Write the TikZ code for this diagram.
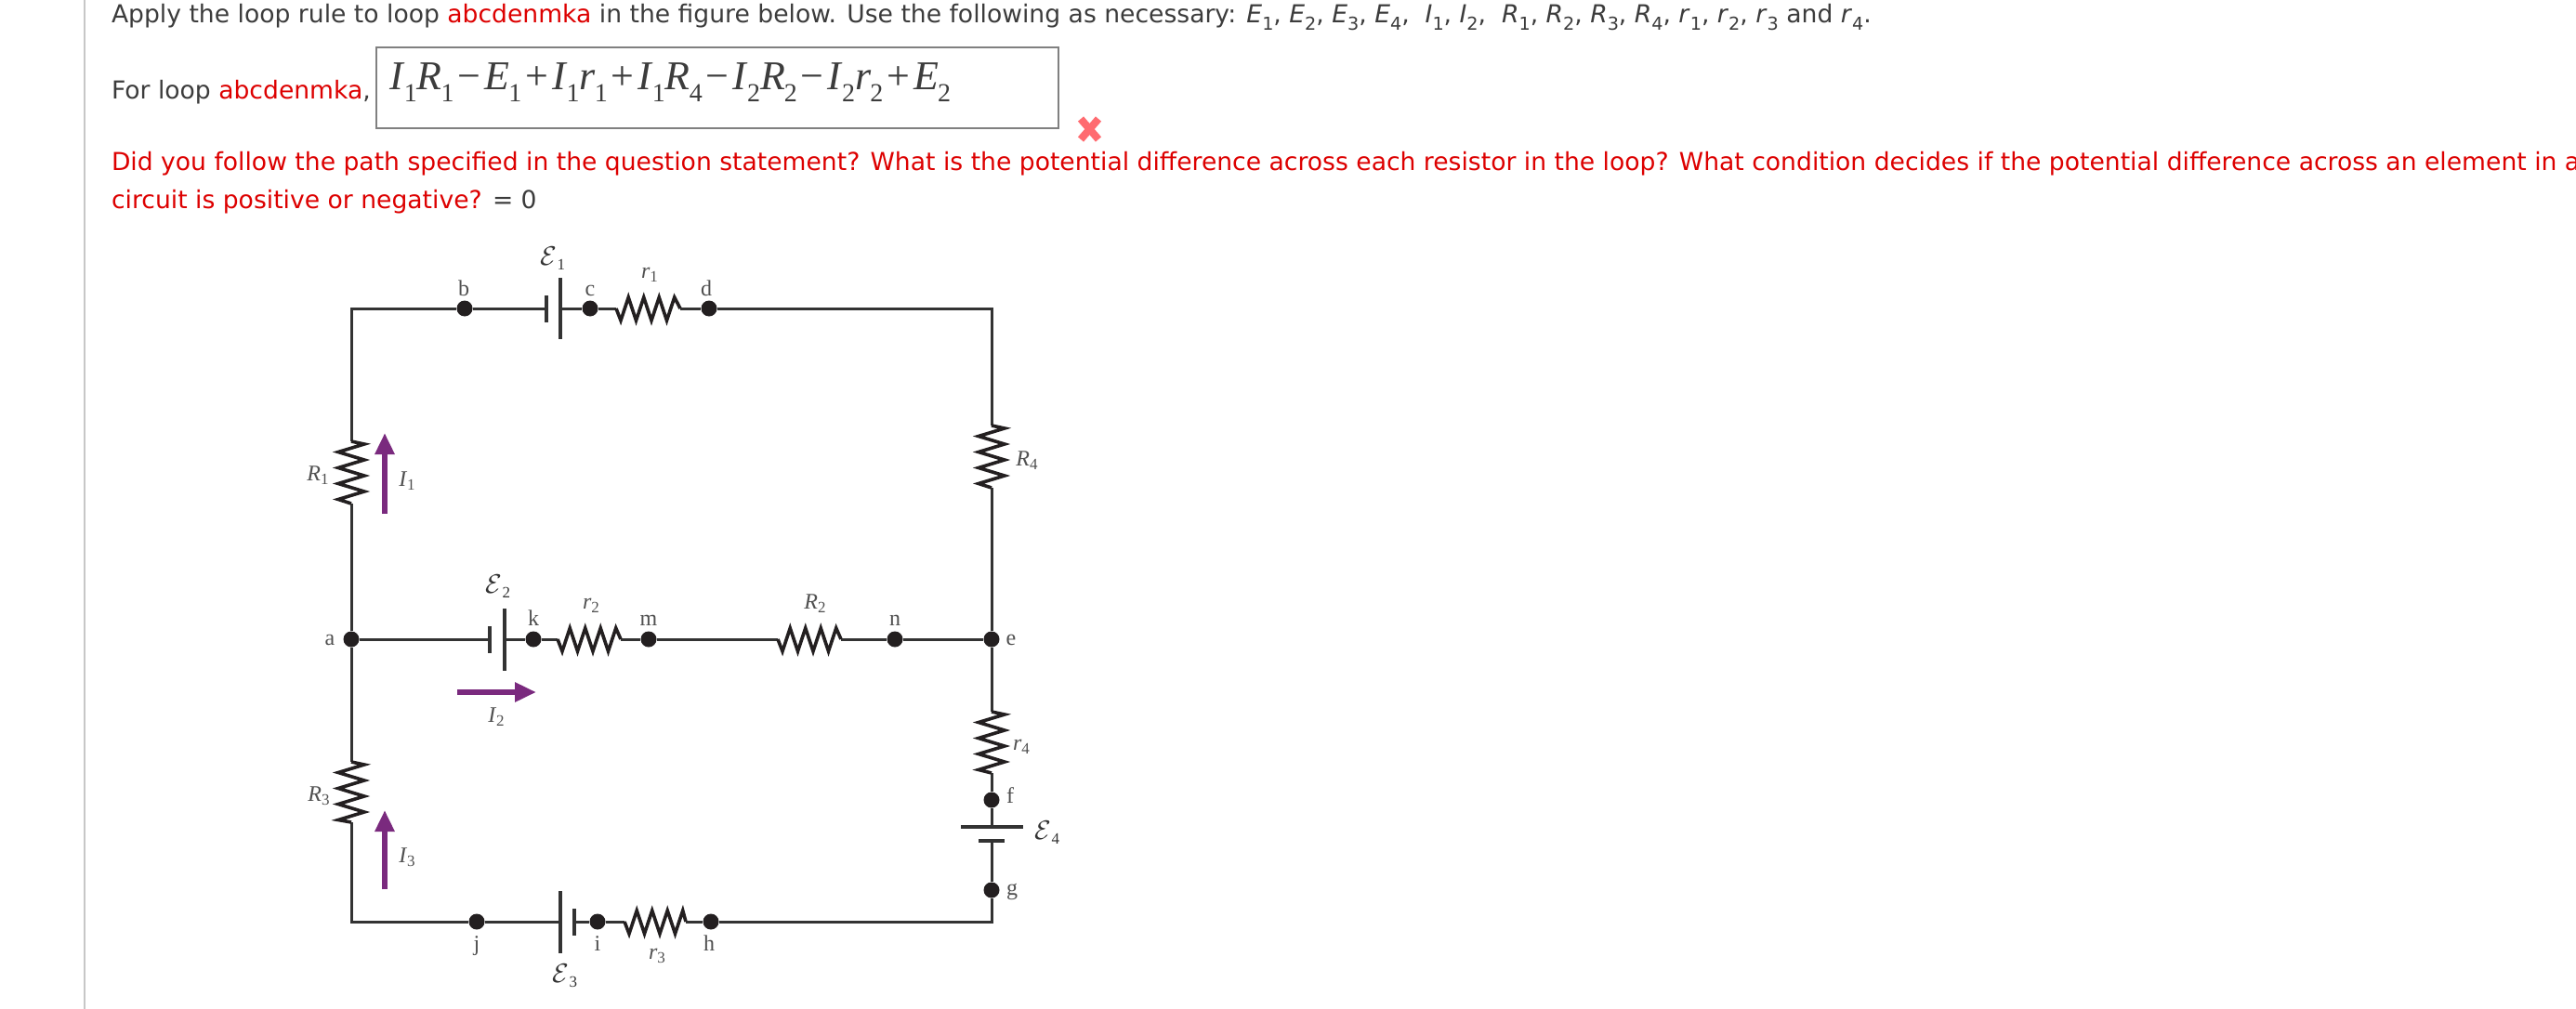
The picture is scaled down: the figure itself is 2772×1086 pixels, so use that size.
\documentclass[tikz,border=0pt]{standalone}
\usepackage{fontspec}
\setmainfont{DejaVu Sans}
\newfontfamily\eqfont{Liberation Serif}
\usetikzlibrary{arrows.meta}
\definecolor{bodyc}{HTML}{3C3C3C}
\definecolor{redc}{HTML}{DD0000}
\definecolor{labc}{HTML}{505050}
\definecolor{wirec}{HTML}{333333}
\definecolor{dotc}{HTML}{231F20}
\definecolor{purp}{HTML}{7A2A7E}
\definecolor{xc}{HTML}{FF6B70}
\newcommand{\sbt}[1]{\raisebox{-0.28em}{\fontsize{9.6}{11}\selectfont #1}}
\newcommand{\V}[2]{\textit{#1}\sbt{#2}}
\newcommand{\Q}[2]{\textit{#1}\kern-0.5pt\raisebox{-0.28em}{\fontsize{14}{16}\selectfont #2}}
\newcommand{\Op}[1]{\kern2pt#1\kern2pt}
\newcommand{\Lsub}[2]{\textit{#1}\raisebox{-0.2em}{\fontsize{8.5}{10}\selectfont #2}}
\newcommand{\Ecal}[1]{\fontsize{14.4}{16}\selectfont$\mathcal{E}$\raisebox{-0.2em}{\eqfont\fontsize{8.5}{10}\selectfont #1}}
\newcommand{\reszH}{-- ++(5,13) -- ++(8.25,-25) -- ++(8.25,25) -- ++(8.25,-25) -- ++(8.25,25) -- ++(8.25,-25) -- ++(8.25,25) -- ++(8.25,-25)}
\newcommand{\reszV}{-- ++(14,3) -- ++(-28,8.5) -- ++(28,8.5) -- ++(-28,8.5) -- ++(28,8.5) -- ++(-28,8.5) -- ++(28,8.5) -- ++(-28,8.5)}
\tikzset{
 body/.style={anchor=base west,inner sep=0,outer sep=0,text=bodyc,font=\fontsize{13.3}{16}\selectfont},
 lab/.style={anchor=base,inner sep=0,outer sep=0,text=labc,font=\eqfont\fontsize{12}{14}\selectfont},
 wire/.style={draw=wirec,line width=1.5pt,line join=miter},
 zig/.style={draw=dotc,line width=1.8pt,line join=miter},
 pt/.style={circle,fill=dotc,inner sep=0,minimum size=8.5pt},
 plateV/.style={rectangle,fill=wirec,inner sep=0,minimum width=2pt},
 plateH/.style={rectangle,fill=wirec,inner sep=0,minimum height=2pt},
 cur/.style={draw=purp,line width=3pt,-{Triangle[length=11.5pt,width=10pt,fill=purp]}},
}
\begin{document}
\begin{tikzpicture}[x=0.5pt,y=-0.5pt]
\useasboundingbox[fill=white] (0,0) rectangle (2772,1086);
\coordinate (ruleT) at (91,0); \coordinate (ruleB) at (91,1086);
\draw[draw=black!22,line width=1pt] (ruleT) -- (ruleB);
% text
\node[body] (l1) at (120,25) {Apply the loop rule to loop {\color{redc}abcdenmka} in the figure below. Use the following as necessary: \V{E}{1}, \V{E}{2}, \V{E}{3}, \V{E}{4},\ \ \V{I}{1}, \V{I}{2},\ \ \V{R}{1}, \V{R}{2}, \V{R}{3}, \V{R}{4}, \V{r}{1}, \V{r}{2}, \V{r}{3} and \V{r}{4}.};
\node[body] (l2) at (120,106) {For loop {\color{redc}abcdenmka},};
\node[draw=black!50,line width=1.2pt,inner sep=0,minimum width=367pt,minimum height=43.5pt,anchor=north west] (box) at (404,50) {};
\node[anchor=base west,inner sep=0,text=bodyc,font=\eqfont\fontsize{22}{26}\selectfont] (eq) at (419,97) {\Q{I}{1}\Q{R}{1}\Op{−}\Q{E}{1}\Op{+}\Q{I}{1}\Q{r}{1}\Op{+}\Q{I}{1}\Q{R}{4}\Op{−}\Q{I}{2}\Q{R}{2}\Op{−}\Q{I}{2}\Q{r}{2}\Op{+}\Q{E}{2}};
\coordinate (xa) at (1163,128); \coordinate (xb) at (1182,150); \coordinate (xc1) at (1182,128); \coordinate (xd) at (1163,150);
\draw[xc,line width=4pt] (xa) -- (xb) (xc1) -- (xd);
\node[body,text=redc] (l3) at (120,184) {Did you follow the path specified in the question statement? What is the potential difference across each resistor in the loop? What condition decides if the potential difference across an element in a};
\node[body,text=redc] (l4) at (120,224) {circuit is positive or negative? {\color{bodyc}= 0}};
% dots
\node[pt] (a) at (378,688) {};
\node[pt] (b) at (500,332) {};
\node[pt] (c) at (635,332) {};
\node[pt] (d) at (763,332) {};
\node[pt] (e) at (1067,688) {};
\node[pt] (f) at (1067,861) {};
\node[pt] (g) at (1067,958) {};
\node[pt] (h) at (765,992) {};
\node[pt] (i) at (643,992) {};
\node[pt] (j) at (513,992) {};
\node[pt] (k) at (574,688) {};
\node[pt] (m) at (698,688) {};
\node[pt] (n) at (963,688) {};
% corners
\coordinate (TL) at (378,332); \coordinate (TR) at (1067,332);
\coordinate (BL) at (378,992); \coordinate (BR) at (1067,992);
% batteries
\node[plateV,minimum height=14.5pt] (e1s) at (588,332) {};
\node[plateV,minimum height=33pt] (e1l) at (603,332) {};
\node[plateV,minimum height=14.5pt] (e2s) at (527,688) {};
\node[plateV,minimum height=33.5pt] (e2l) at (543,688) {};
\node[plateV,minimum height=33.5pt] (e3l) at (603,992) {};
\node[plateV,minimum height=14.5pt] (e3s) at (618,992) {};
\node[plateH,minimum width=33.5pt] (e4l) at (1067,890) {};
\node[plateH,minimum width=14pt] (e4s) at (1067,905) {};
% resistor ends
\coordinate (r1a) at (663,332); \coordinate (r1b) at (732,332);
\coordinate (r2a) at (600,688); \coordinate (r2b) at (668,688);
\coordinate (r3a) at (672,992); \coordinate (r3b) at (738,992);
\coordinate (Rb2a) at (837,688); \coordinate (Rb2b) at (905,688);
\coordinate (R1a) at (378,475); \coordinate (R1b) at (378,542);
\coordinate (R3a) at (378,820); \coordinate (R3b) at (378,885);
\coordinate (R4a) at (1067,458); \coordinate (R4b) at (1067,525);
\coordinate (r4a) at (1067,766); \coordinate (r4b) at (1067,832);
% wires
\draw[wire] (b) -| (R1a);
\draw[wire] (R1b) -- (a);
\draw[wire] (a) -- (R3a);
\draw[wire] (R3b) |- (j);
\draw[wire] (b) -- (e1s);
\draw[wire] (e1l) -- (c);
\draw[wire] (c) -- (r1a);
\draw[wire] (r1b) -- (d);
\draw[wire] (d) -| (R4a);
\draw[wire] (R4b) -- (e);
\draw[wire] (a) -- (e2s);
\draw[wire] (e2l) -- (k);
\draw[wire] (k) -- (r2a);
\draw[wire] (r2b) -- (m);
\draw[wire] (m) -- (Rb2a);
\draw[wire] (Rb2b) -- (n);
\draw[wire] (n) -- (e);
\draw[wire] (e) -- (r4a);
\draw[wire] (r4b) -- (f);
\draw[wire] (f) -- (e4l);
\draw[wire] (e4s) -- (g);
\draw[wire] (g) |- (h);
\draw[wire] (h) -- (r3b);
\draw[wire] (r3a) -- (i);
\draw[wire] (i) -- (e3s);
\draw[wire] (e3l) -- (j);
% resistors
\draw[zig] (r1a) \reszH -- (r1b);
\draw[zig] (r2a) \reszH -- (r2b);
\draw[zig] (r3a) \reszH -- (r3b);
\draw[zig] (Rb2a) \reszH -- (Rb2b);
\draw[zig] (R1a) \reszV -- (R1b);
\draw[zig] (R3a) \reszV -- (R3b);
\draw[zig] (R4a) \reszV -- (R4b);
\draw[zig] (r4a) \reszV -- (r4b);
% currents
\coordinate (i1a) at (414,553); \coordinate (i1b) at (414,466);
\coordinate (i2a) at (492,745); \coordinate (i2b) at (577,745);
\coordinate (i3a) at (414,957); \coordinate (i3b) at (414,872);
\draw[cur] (i1a) -- (i1b);
\draw[cur] (i2a) -- (i2b);
\draw[cur] (i3a) -- (i3b);
% labels
\node[lab] (la) at (355,694) {a};
\node[lab] (lb) at (499,318) {b};
\node[lab] (lc) at (635,318) {c};
\node[lab] (ld) at (760,318) {d};
\node[lab] (le) at (1088,694) {e};
\node[lab] (lf) at (1087,864) {f};
\node[lab] (lg) at (1089,963) {g};
\node[lab] (lh) at (763,1023) {h};
\node[lab] (li) at (643,1023) {i};
\node[lab] (lj) at (513,1023) {j};
\node[lab] (lk) at (574,673) {k};
\node[lab] (lm) at (698,673) {m};
\node[lab] (ln) at (963,673) {n};
\node[lab] (lr1) at (699,299) {\Lsub{r}{1}};
\node[lab] (lr2) at (636,655) {\Lsub{r}{2}};
\node[lab] (lr3) at (707,1032) {\Lsub{r}{3}};
\node[lab] (lr4) at (1099,807) {\Lsub{r}{4}};
\node[lab] (lR1) at (342,517) {\Lsub{R}{1}};
\node[lab] (lR2) at (877,655) {\Lsub{R}{2}};
\node[lab] (lR3) at (343,862) {\Lsub{R}{3}};
\node[lab] (lR4) at (1105,501) {\Lsub{R}{4}};
\node[lab] (lI1) at (438,523) {\Lsub{I}{1}};
\node[lab] (lI2) at (534,777) {\Lsub{I}{2}};
\node[lab] (lI3) at (438,928) {\Lsub{I}{3}};
\node[lab,text=wirec] (lE1) at (595,285) {\Ecal{1}};
\node[lab,text=wirec] (lE2) at (536,638) {\Ecal{2}};
\node[lab,text=wirec] (lE3) at (608,1057) {\Ecal{3}};
\node[lab,text=wirec] (lE4) at (1127,903) {\Ecal{4}};
\end{tikzpicture}
\end{document}
